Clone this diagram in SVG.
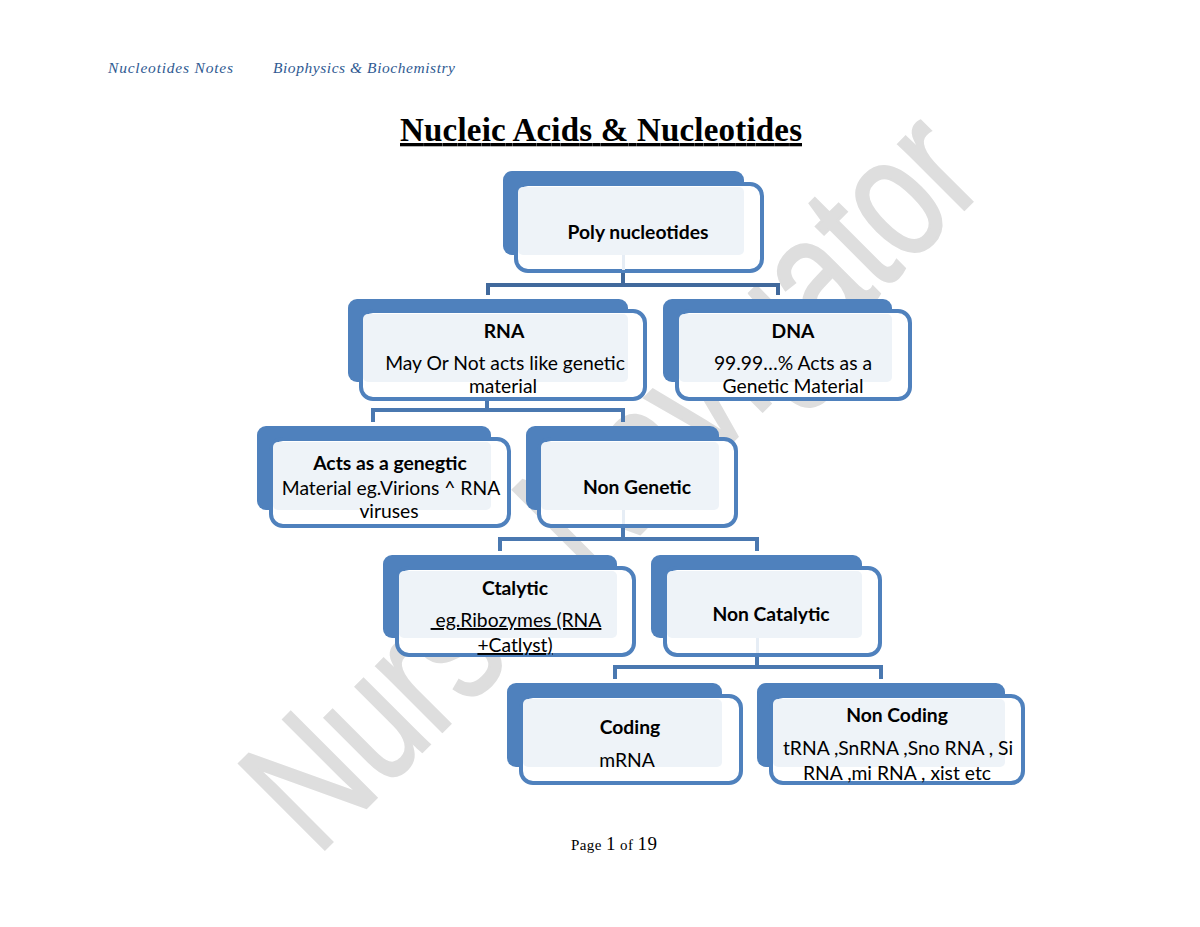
<svg xmlns="http://www.w3.org/2000/svg" width="1200" height="927" viewBox="0 0 1200 927">
<style>
.back{fill:#4f81bd}
.front{fill:#fff;stroke:#4f81bd;stroke-width:4}
.tint{fill:#eef3f8}
.stub{fill:#e6edf5}
.conn{fill:none;stroke:#4a78b0;stroke-width:4}
.b{font:bold 19.3px Lato,"Noto Sans",sans-serif;fill:#000;text-anchor:middle}
.r{font:19.3px Lato,"Noto Sans",sans-serif;fill:#000;text-anchor:middle}
.hd{font:italic 15.5px "Liberation Serif",serif;fill:#2f5a92}
</style>
<rect width="1200" height="927" fill="#fff"/>
<text transform="translate(317,857) rotate(-45)" font-family="Liberation Sans,sans-serif" font-size="176" fill="#dedede" stroke="#dedede" stroke-width="2.5" textLength="950" lengthAdjust="spacingAndGlyphs">Nurse Navigator</text>
<text class="hd" x="108" y="73" textLength="125" lengthAdjust="spacing">Nucleotides Notes</text>
<text class="hd" x="273" y="73" textLength="182" lengthAdjust="spacing">Biophysics &amp; Biochemistry</text>
<text x="601" y="141" font-family="Liberation Serif,serif" font-weight="bold" font-size="33" text-anchor="middle" text-decoration="underline" textLength="402" lengthAdjust="spacing">Nucleic Acids &amp; Nucleotides</text>
<g id="connectors">
<path class="conn" style="stroke:#41699c" d="M623 272V285M488 295V285H778V295"/>
<path class="conn" d="M487 400V410M373 422V410H623V422"/>
<path class="conn" d="M623 527V539M500 551V539H757V551"/>
<path class="conn" d="M757 655V667M615 679V667H881V679"/>
</g>
<g id="n1"><rect class="back" x="503" y="171" width="241" height="84" rx="9"/><rect class="front" x="516" y="184" width="246" height="87" rx="12"/><rect class="tint" x="518" y="187" width="226" height="68" rx="5"/><rect class="stub" x="622" y="255" width="3" height="15"/><text class="b" x="638" y="239">Poly nucleotides</text></g>
<g id="n2"><rect class="back" x="348" y="299" width="280" height="83" rx="9"/><rect class="front" x="361" y="311" width="284" height="88" rx="12"/><rect class="tint" x="363" y="314" width="265" height="68" rx="5"/><text class="b" x="504" y="338">RNA</text><text class="r" x="505" y="370">May Or Not acts like genetic</text><text class="r" x="503" y="393">material</text></g>
<g id="n3"><rect class="back" x="663" y="299" width="229" height="83" rx="9"/><rect class="front" x="677" y="311" width="233" height="88" rx="12"/><rect class="tint" x="679" y="314" width="213" height="68" rx="5"/><text class="b" x="793" y="338">DNA</text><text class="r" x="793" y="370">99.99…% Acts as a</text><text class="r" x="793" y="393">Genetic Material</text></g>
<g id="n4"><rect class="back" x="257" y="426" width="234" height="84" rx="9"/><rect class="front" x="271" y="439" width="238" height="87" rx="12"/><rect class="tint" x="273" y="442" width="218" height="68" rx="5"/><text class="b" x="390" y="470">Acts as a genegtic</text><text class="r" x="391" y="495">Material eg.Virions ^ RNA</text><text class="r" x="389" y="518">viruses</text></g>
<g id="n5"><rect class="back" x="526" y="426" width="193" height="84" rx="9"/><rect class="front" x="539" y="439" width="197" height="87" rx="12"/><rect class="tint" x="541" y="442" width="178" height="68" rx="5"/><rect class="stub" x="622" y="510" width="3" height="14"/><text class="b" x="637" y="494">Non Genetic</text></g>
<g id="n6"><rect class="back" x="383" y="555" width="234" height="83" rx="9"/><rect class="front" x="397" y="568" width="237" height="87" rx="12"/><rect class="tint" x="399" y="571" width="218" height="67" rx="5"/><text class="b" x="515" y="595">Ctalytic</text><text class="r" x="516" y="627" text-decoration="underline" xml:space="preserve"> eg.Ribozymes (RNA</text><text class="r" x="515" y="652" text-decoration="underline">+Catlyst)</text></g>
<g id="n7"><rect class="back" x="651" y="555" width="211" height="83" rx="9"/><rect class="front" x="665" y="568" width="215" height="87" rx="12"/><rect class="tint" x="667" y="571" width="195" height="67" rx="5"/><rect class="stub" x="756" y="638" width="3" height="15"/><text class="b" x="771" y="621">Non Catalytic</text></g>
<g id="n8"><rect class="back" x="507" y="683" width="215" height="84" rx="9"/><rect class="front" x="521" y="696" width="220" height="87" rx="12"/><rect class="tint" x="523" y="699" width="199" height="68" rx="5"/><text class="b" x="630" y="734">Coding</text><text class="r" x="627" y="767">mRNA</text></g>
<g id="n9"><rect class="back" x="757" y="683" width="248" height="84" rx="9"/><rect class="front" x="771" y="696" width="252" height="87" rx="12"/><rect class="tint" x="773" y="699" width="232" height="68" rx="5"/><text class="b" x="897" y="722">Non Coding</text><text class="r" x="898" y="755">tRNA ,SnRNA ,Sno RNA , Si</text><text class="r" x="897" y="780">RNA ,mi RNA , xist etc</text></g>
<text x="614" y="850" font-family="Liberation Serif,serif" font-size="15" text-anchor="middle" textLength="86" lengthAdjust="spacing">Page <tspan font-size="19">1</tspan> of <tspan font-size="19">19</tspan></text>
</svg>
